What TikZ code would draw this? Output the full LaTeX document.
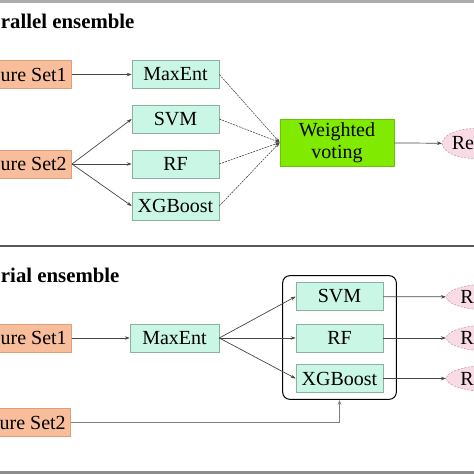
\documentclass[tikz,border=0pt]{standalone}
\usepackage{fontspec}
\setmainfont{Liberation Serif}
\usetikzlibrary{arrows.meta,shapes.geometric,fit}
\definecolor{featfill}{RGB}{248,190,155}
\definecolor{featline}{RGB}{222,158,120}
\definecolor{modelfill}{RGB}{202,246,230}
\definecolor{modelline}{RGB}{140,176,162}
\definecolor{votefill}{RGB}{128,234,0}
\definecolor{voteline}{RGB}{104,196,0}
\definecolor{resfill}{RGB}{249,219,229}
\definecolor{resline}{RGB}{196,158,172}
\definecolor{linegray}{RGB}{70,70,70}
\begin{document}
\begin{tikzpicture}[x=1pt,y=-1pt,
  feat/.style={draw=featline,fill=featfill,line width=0.6pt,font=\fontsize{20}{22}\selectfont,inner xsep=5pt,inner ysep=0pt,minimum height=28pt,anchor=east},
  model/.style={draw=modelline,fill=modelfill,line width=0.6pt,font=\fontsize{20}{22}\selectfont,minimum width=87pt,minimum height=28pt,inner sep=0pt},
  vote/.style={draw=voteline,fill=votefill,line width=0.6pt,font=\fontsize{20}{21.5}\selectfont,align=center,minimum width=114pt,minimum height=47pt,inner sep=0pt},
  res/.style={ellipse,draw=resline,dash pattern=on 2pt off 1.5pt,fill=resfill,line width=0.6pt,font=\fontsize{20}{22}\selectfont,text width=68pt,align=left,inner sep=0pt,anchor=west},
  title/.style={font=\bfseries\fontsize{20.8}{22}\selectfont,anchor=base west,inner sep=0pt},
  cont/.style={draw=black,line width=1pt,rounded corners=7pt,inner xsep=13pt,inner ysep=6.5pt},
  arr/.style={-{Stealth[length=5pt,width=3.5pt]},draw=linegray,line width=0.7pt},
  votearr/.style={arr,dash pattern=on 2pt off 1pt,line width=0.6pt}]
\useasboundingbox (0,0) rectangle (474,474);
\clip (0,0) rectangle (474,474);
\draw[line width=3pt,gray!65] (0,1.5) -- (474,1.5);
\draw[line width=1.5pt,black!65] (0,246) -- (474,246);
\draw[line width=3pt,gray!90] (0,472.5) -- (474,472.5);

% parallel ensemble
\node[title] (ttop) at (0.8,28) {rallel ensemble};
\node[feat] (fsone) at (72,74.5) {ure Set1};
\node[feat] (fstwo) at (72,164) {ure Set2};
\node[model] (maxent) at (175.5,74.5) {MaxEnt};
\node[model] (svm) at (175.5,119) {SVM};
\node[model] (rf) at (175.5,164) {RF};
\node[model] (xgb) at (175.5,206) {XGBoost};
\node[vote] (vote) at (337,142.5) {Weighted\\voting};
\node[res,text width=46pt,minimum height=30pt] (res) at (442,143.5) {Re};
\draw[arr] (fsone) -- (maxent);
\draw[arr] (fstwo.east) -- (svm.west);
\draw[arr] (fstwo.east) -- (rf.west);
\draw[arr] (fstwo.east) -- (xgb.west);
\foreach \m in {maxent,svm,rf,xgb}
  \draw[votearr] (\m.east) -- (vote.west);
\draw[arr] (vote) -- (res);

% serial ensemble
\node[title] (tbot) at (0.8,282) {rial ensemble};
\node[feat] (fsoneb) at (72,338) {ure Set1};
\node[feat] (fstwob) at (71,422.5) {ure Set2};
\node[model,minimum width=89pt] (maxentb) at (174.5,338) {MaxEnt};
\node[model] (svmb) at (339.5,296.5) {SVM};
\node[model] (rfb) at (339.5,338) {RF};
\node[model] (xgbb) at (339.5,378.5) {XGBoost};
\node[cont,fit=(svmb)(rfb)(xgbb)] (box) {};
\node[res,minimum height=27pt] (resa) at (446,297) {R};
\node[res,minimum height=27pt] (resb) at (446,338) {R};
\node[res,minimum height=27pt] (resc) at (446,378.5) {R};
\draw[arr] (fsoneb) -- (maxentb);
\draw[arr] (maxentb.east) -- (svmb.west);
\draw[arr] (maxentb.east) -- (rfb.west);
\draw[arr] (maxentb.east) -- (xgbb.west);
\draw[arr,draw=gray] (fstwob.east) -| (box.south);
\draw[arr] (svmb) -- (resa);
\draw[arr] (rfb) -- (resb);
\draw[arr] (xgbb) -- (resc);
\end{tikzpicture}
\end{document}
